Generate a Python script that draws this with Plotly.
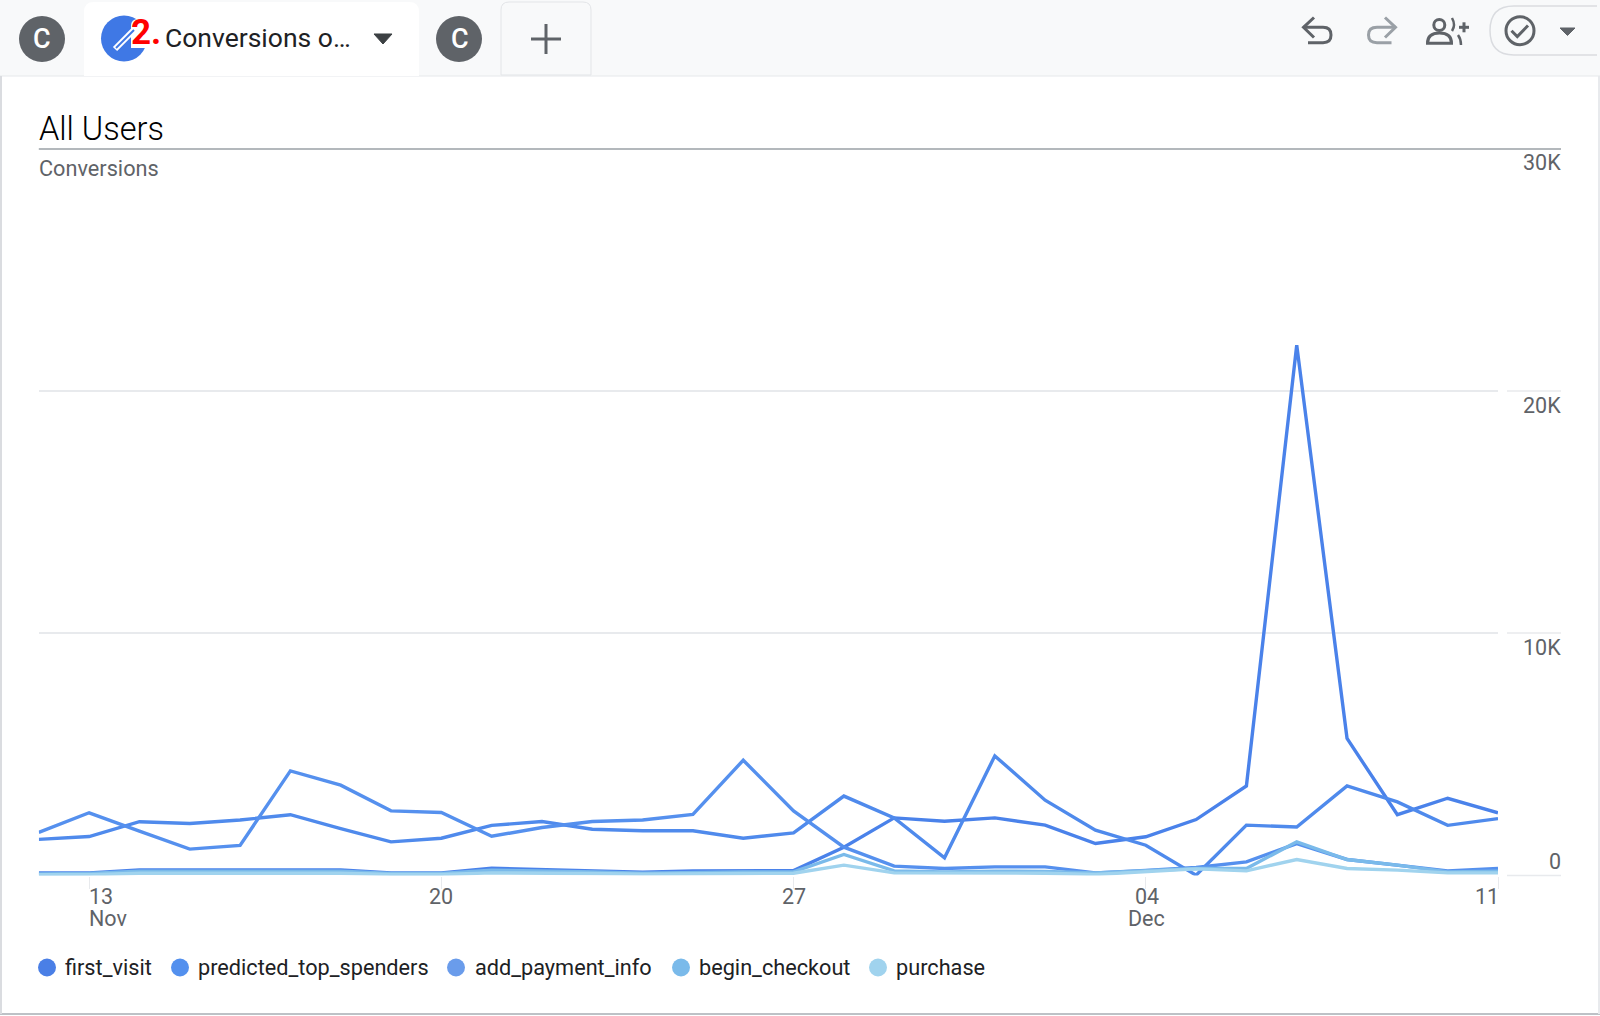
"""Conversions over time, All Users: line card with a tab strip on top."""
import plotly.graph_objects as go

W, H = 1600, 1016

DATES = [
    "2022-11-12", "2022-11-13", "2022-11-14", "2022-11-15", "2022-11-16", "2022-11-17",
    "2022-11-18", "2022-11-19", "2022-11-20", "2022-11-21", "2022-11-22", "2022-11-23",
    "2022-11-24", "2022-11-25", "2022-11-26", "2022-11-27", "2022-11-28", "2022-11-29",
    "2022-11-30", "2022-12-01", "2022-12-02", "2022-12-03", "2022-12-04", "2022-12-05",
    "2022-12-06", "2022-12-07", "2022-12-08", "2022-12-09", "2022-12-10", "2022-12-11",
]

first_visit = [110, 110, 234, 234, 234, 234, 234, 110, 110, 303, 248, 207, 138, 193, 207,
               207, 1170, 2380, 2240, 2380, 2080, 1320, 1600, 2310, 3700, 21900, 5660,
               2510, 3190, 2590]
predicted_top_spenders = [1490, 1610, 2220, 2150, 2290, 2510, 1940, 1390, 1540, 2070, 2230,
                          1910, 1850, 1850, 1540, 1760, 3280, 2380, 730, 4940, 3110, 1870,
                          1250, 14, 2080, 2000, 3700, 3040, 2070, 2350]
add_payment_info = [1780, 2590, 1830, 1090, 1240, 4320, 3730, 2670, 2600, 1620, 1980, 2230,
                    2290, 2520, 4760, 2670, 1170, 386, 289, 358, 358, 110, 207, 330, 565,
                    1320, 661, 427, 193, 289]
begin_checkout = [69, 83, 179, 179, 179, 179, 179, 83, 83, 220, 193, 151, 96, 138, 151, 151,
                  868, 193, 151, 179, 165, 110, 193, 289, 289, 1390, 661, 427, 151, 179]
purchase = [28, 28, 96, 96, 96, 96, 96, 41, 41, 110, 110, 83, 55, 83, 83, 96, 427, 110, 96,
            96, 96, 41, 151, 275, 193, 661, 289, 220, 110, 110]

SERIES_NAMES = ["first_visit", "predicted_top_spenders", "add_payment_info", "begin_checkout", "purchase"]
SERIES_VALUES = [first_visit, predicted_top_spenders, add_payment_info, begin_checkout, purchase]
SERIES_COLORS = ["#4a7fe6", "#5390ee", "#6a9ceb", "#7abaea", "#a0d3ee"]
LINE_COLORS = ["#4a82ea", "#4f8aec", "#5590ee", "#7abaea", "#a0d3ee"]

X_TICKS = ["2022-11-13", "2022-11-20", "2022-11-27", "2022-12-04", "2022-12-11"]
X_LABELS = ["13", "20", "27", "04", "11"]
X_MONTHS = ["Nov", "", "", "Dec", ""]
X_ANCHORS = ["left", "center", "center", "center", "right"]
X_SHIFTS = [-2, 0, 0, 1, 3]
Y_TICKS = [0, 10000, 20000, 30000]
Y_LABELS = ["0", "10K", "20K", "30K"]

GREY = "#5f6368"
GRID = "#e8eaed"
LEFT, RIGHT, TOP, ZERO = 38.8, 1498.0, 149.0, 875.5


def px(x):
    return x / W


def py(y):
    return 1 - y / H


def path(*parts):
    # parts are command letters and (x, y) pixel pairs
    out = []
    for p in parts:
        out.append(p if isinstance(p, str) else f"{px(p[0]):.5f},{py(p[1]):.5f}")
    return " ".join(out)


def box(x0, y0, x1, y1, fill):
    return dict(type="rect", xref="paper", yref="paper", x0=px(x0), x1=px(x1), y0=py(y0), y1=py(y1),
                fillcolor=fill, line=dict(color=fill, width=0), layer="below")


def circle(cx, cy, r, fill, line=None, width=2):
    return dict(type="circle", xref="paper", yref="paper", x0=px(cx - r), x1=px(cx + r),
                y0=py(cy + r), y1=py(cy - r), fillcolor=fill,
                line=dict(color=line or fill, width=width if line else 0), layer="above")


def stroke(d, color=GREY, width=3, fill="rgba(0,0,0,0)"):
    return dict(type="path", xref="paper", yref="paper", path=d, fillcolor=fill,
                line=dict(color=color, width=width), layer="above")


def hline(x0, x1, y, color, width=1.5):
    return dict(type="line", xref="paper", yref="paper", x0=px(x0), x1=px(x1), y0=py(y), y1=py(y),
                line=dict(color=color, width=width), layer="below")


def vline(x, y0, y1, color, width=2):
    return dict(type="line", xref="paper", yref="paper", x0=px(x), x1=px(x), y0=py(y0), y1=py(y1),
                line=dict(color=color, width=width), layer="below")


def rounded_tab(x0, x1, y0, y1, r, fill, line=None):
    d = path("M", (x0, y1), "L", (x0, y0 + r), "Q", (x0, y0), (x0 + r, y0), "L", (x1 - r, y0),
             "Q", (x1, y0), (x1, y0 + r), "L", (x1, y1), "Z")
    return dict(type="path", xref="paper", yref="paper", path=d, fillcolor=fill,
                line=dict(color=line or fill, width=1 if line else 0), layer="above")


def label(x, y, text, size=20, color=GREY, anchor="left", weight=400):
    return dict(xref="paper", yref="paper", x=px(x), y=py(y), text=text, showarrow=False, xanchor=anchor,
                yanchor="middle", align=anchor,
                font=dict(family="Roboto", size=size, color=color, weight=weight))


fig = go.Figure()
for name, values, color in zip(SERIES_NAMES, SERIES_VALUES, LINE_COLORS):
    fig.add_trace(go.Scatter(x=DATES, y=values, mode="lines", name=name, cliponaxis=False,
                             line=dict(color=color, width=3.4)))

shapes = [
    box(0, 0, W, 76, "#f8f9fa"),
    hline(0, W, 76, "#e6e8eb", 1),
    hline(0, W, 1014, "#bdc1c6", 2),
    vline(1, 76, 1014, "#dadce0"),
    vline(1599, 76, 1014, "#e8eaed"),
    # gridline stubs right of the plot, under the tick labels
    hline(1507, 1561, 391, GRID),
    hline(1507, 1561, 633, GRID),
    hline(1507, 1561, ZERO, GRID),
    hline(LEFT, 1561, TOP, "#9aa0a6", 1.5),
    # tabs
    rounded_tab(84, 419, 2, 76, 10, "#ffffff"),
    rounded_tab(501, 591, 2, 75, 8, "#f8f9fa", "#e3e5e8"),
    circle(42, 39, 23, GREY),
    circle(459, 39, 23, GREY),
    circle(124, 38.5, 23, "#3f78e5"),
    rounded_tab(131, 161, 19, 48, 7, "#ffffff"),
    stroke(path("M", (115, 49), "L", (135, 29)), "#ffffff", 6),
    stroke(path("M", (116, 48), "L", (134, 30)), "#3f78e5", 2),
    stroke(path("M", (374, 34), "L", (392, 34), "L", (383, 44), "Z"), "#3c4043", 1, "#3c4043"),
    stroke(path("M", (531, 39), "L", (561, 39))),
    stroke(path("M", (546, 24), "L", (546, 54))),
    # undo
    stroke(path("M", (1314, 17.5), "L", (1303.5, 27.3), "L", (1314, 37.5))),
    stroke(path("M", (1303.5, 27.3), "L", (1323, 27.3), "Q", (1331, 27.3), (1331, 35),
                "Q", (1331, 42.7), (1323, 42.7), "L", (1308, 42.7))),
    # redo
    stroke(path("M", (1385, 17.5), "L", (1395.5, 27.3), "L", (1385, 37.5)), "#9aa0a6"),
    stroke(path("M", (1395.5, 27.3), "L", (1377, 27.3), "Q", (1368.5, 27.3), (1368.5, 35),
                "Q", (1368.5, 42.7), (1377, 42.7), "L", (1391.5, 42.7)), "#9aa0a6"),
    # share
    circle(1439.3, 25, 5.5, "rgba(0,0,0,0)", GREY, 3),
    stroke(path("M", (1427.5, 43.3), "Q", (1427.5, 33), (1439.5, 33), "Q", (1451.5, 33), (1451.5, 43.3), "Z")),
    stroke(path("M", (1452, 18), "Q", (1456, 25), (1452, 31)), GREY, 2.5),
    stroke(path("M", (1458, 35), "Q", (1461, 39), (1461, 45)), GREY, 2.5),
    stroke(path("M", (1459, 27.3), "L", (1469, 27.3))),
    stroke(path("M", (1464, 22.3), "L", (1464, 32.3))),
    # status pill
    stroke(path("M", (1597, 6), "L", (1514, 6), "Q", (1490, 6), (1490, 30.5), "Q", (1490, 55), (1514, 55),
                "L", (1597, 55)), "#dadce0", 1.5),
    circle(1520, 30.7, 14, "rgba(0,0,0,0)", GREY, 3),
    stroke(path("M", (1511.5, 30.7), "L", (1517.3, 36.5), "L", (1528, 25.5))),
    stroke(path("M", (1560, 28), "L", (1575, 28), "L", (1567.5, 35.5), "Z"), GREY, 1, GREY),
]

annotations = [
    label(42, 39, "C", 27, "#ffffff", "center", 500),
    label(459.5, 39, "C", 27, "#ffffff", "center", 500),
    label(129, 33, "2.", 35, "#ff0000", "left", 700),
    label(163, 37.5, "Conversions o…", 26.5, "#202124", "left", 400),
    label(36.5, 129, "All Users", 32.5, "#000000", "left", 300),
    label(36.5, 168.5, "Conversions", 21.7, GREY),
]

# y tick labels sit under their gridline, except the zero one
for tick, text in zip(Y_TICKS, Y_LABELS):
    annotations.append(dict(xref="paper", yref="y", x=px(1563), y=tick, text=text, showarrow=False,
                            xanchor="right", yanchor="middle", yshift=-14 if tick else 14,
                            font=dict(family="Roboto", size=21.5, color=GREY)))

for tick, text, month, anchor, shift in zip(X_TICKS, X_LABELS, X_MONTHS, X_ANCHORS, X_SHIFTS):
    for line, y in ((text, 896), (month, 918)):
        if line:
            annotations.append(dict(xref="x", yref="paper", x=tick, y=py(y), text=line, showarrow=False,
                                    xanchor=anchor, yanchor="middle", align=anchor, xshift=shift,
                                    font=dict(family="Roboto", size=21.5, color=GREY)))

# legend row, drawn by hand so the keys are dots
LEGEND_DOTS = [47, 180, 456, 681, 878]
LEGEND_TEXT = [63, 196, 473, 696.5, 894]
for name, color, dot, tx in zip(SERIES_NAMES, SERIES_COLORS, LEGEND_DOTS, LEGEND_TEXT):
    shapes.append(circle(dot, 967.5, 9, color))
    annotations.append(label(tx, 967.5, name, 21.7, "#202124"))

fig.update_layout(
    width=W, height=H, margin=dict(l=0, r=0, t=0, b=0),
    paper_bgcolor="#ffffff", plot_bgcolor="#ffffff", showlegend=False,
    shapes=shapes, annotations=annotations,
    xaxis=dict(domain=[px(LEFT), px(RIGHT)], type="date", range=[DATES[0], DATES[-1]],
               tickvals=X_TICKS, showticklabels=False, ticks="outside", ticklen=12, tickcolor=GRID,
               showgrid=False, zeroline=False, showline=False),
    yaxis=dict(domain=[py(ZERO), py(TOP)], range=[0, 30000], tickvals=Y_TICKS, showticklabels=False,
               gridcolor=GRID, gridwidth=1.5, zeroline=False, showline=False),
)

# the default page has an 8px body margin, which would push the card off the window
fig.write_html("out.html", config={"displayModeBar": False},
               post_script="document.body.style.margin='0';document.documentElement.style.overflow='hidden';")
